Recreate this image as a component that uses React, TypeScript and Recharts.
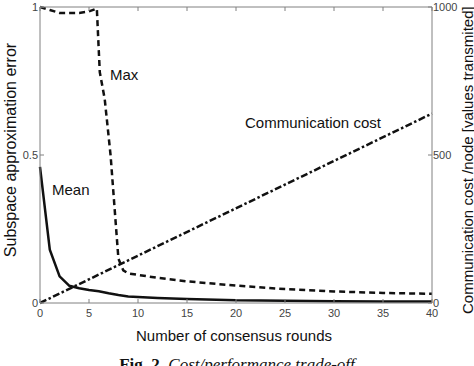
import React from 'react';
import { ComposedChart, Line, XAxis, YAxis } from 'recharts';

// values
const meanRounds = [0, 1, 2, 3, 4, 5, 6, 7, 8, 9, 10, 12, 15, 17, 20, 25, 30, 35, 40];
const meanError = [0.46, 0.18, 0.09, 0.058, 0.05, 0.044, 0.04, 0.033, 0.027, 0.022, 0.02, 0.017, 0.0135, 0.012, 0.009, 0.008, 0.006, 0.005, 0.005];

const maxRounds = [0, 1, 2, 3, 4, 5, 5.8, 6.1, 6.6, 7.2, 8, 8.5, 9, 10, 12, 15, 20, 25, 30, 35, 40];
const maxError = [1.0, 0.99, 0.98, 0.98, 0.98, 0.985, 0.995, 0.78, 0.69, 0.5, 0.15, 0.11, 0.1, 0.095, 0.085, 0.073, 0.059, 0.047, 0.039, 0.034, 0.031];

const costRounds = [0, 40];
const costValues = [0, 640];

const xTicks = [0, 5, 10, 15, 20, 25, 30, 35, 40];
const leftTicks = [0, 0.5, 1];
const rightTicks = [0, 500, 1000];

const meanData = meanRounds.map((r, i) => ({ round: r, value: meanError[i] }));
const maxData = maxRounds.map((r, i) => ({ round: r, value: maxError[i] }));
const costData = costRounds.map((r, i) => ({ round: r, value: costValues[i] }));

const FRAME = '#808080';
const TICK_TEXT = '#444';
const FONT = '"Liberation Sans", Arial, sans-serif';

const BottomTick = ({ x, y, payload }: any) => (
  <g>
    <line x1={x} y1={y} x2={x} y2={y - 4} stroke={FRAME} />
    <text x={x} y={y + 14} textAnchor="middle" fontSize={11} fill={TICK_TEXT} fontFamily={FONT}>
      {payload.value}
    </text>
  </g>
);

const TopTick = ({ x, y }: any) => <line x1={x} y1={y} x2={x} y2={y + 4} stroke={FRAME} />;

const LeftTick = ({ x, y, payload }: any) => (
  <g>
    <line x1={x} y1={y} x2={x + 4} y2={y} stroke={FRAME} />
    <text x={x - 2} y={y + 4} textAnchor="end" fontSize={11} fill={TICK_TEXT} fontFamily={FONT}>
      {payload.value}
    </text>
  </g>
);

const RightTick = ({ x, y, payload }: any) => (
  <g>
    <line x1={x} y1={y} x2={x - 4} y2={y} stroke={FRAME} />
    <text x={x + 1} y={y + 4} textAnchor="start" fontSize={11} fill={TICK_TEXT} fontFamily={FONT}>
      {payload.value}
    </text>
  </g>
);

export default function App() {
  return (
    <div style={{ position: 'absolute', left: 0, top: 0, width: 474, height: 366, background: '#fff' }}>
      <ComposedChart
        width={474}
        height={366}
        data={meanData}
        margin={{ top: 6, right: 41, bottom: 62, left: 39 }}
      >
        <XAxis
          dataKey="round"
          type="number"
          domain={[0, 40]}
          ticks={xTicks}
          interval={0}
          height={1}
          tickSize={0}
          tickMargin={0}
          tickLine={false}
          axisLine={{ stroke: FRAME }}
          tick={<BottomTick />}
        />
        <XAxis
          xAxisId="top"
          orientation="top"
          dataKey="round"
          type="number"
          domain={[0, 40]}
          ticks={xTicks}
          interval={0}
          height={1}
          tickSize={0}
          tickMargin={0}
          tickLine={false}
          axisLine={{ stroke: FRAME }}
          tick={<TopTick />}
        />
        <YAxis
          yAxisId="left"
          type="number"
          domain={[0, 1]}
          ticks={leftTicks}
          interval={0}
          width={1}
          tickSize={0}
          tickMargin={0}
          tickLine={false}
          axisLine={{ stroke: FRAME }}
          tick={<LeftTick />}
        />
        <YAxis
          yAxisId="right"
          orientation="right"
          type="number"
          domain={[0, 1000]}
          ticks={rightTicks}
          interval={0}
          width={1}
          tickSize={0}
          tickMargin={0}
          tickLine={false}
          axisLine={{ stroke: FRAME }}
          tick={<RightTick />}
        />
        <Line
          yAxisId="right"
          data={costData}
          dataKey="value"
          type="linear"
          stroke="#111"
          strokeWidth={2.5}
          strokeDasharray="7 2.5 2.5 2.5"
          dot={false}
          isAnimationActive={false}
        />
        <Line
          yAxisId="left"
          data={maxData}
          dataKey="value"
          type="linear"
          stroke="#111"
          strokeWidth={2.5}
          strokeDasharray="6 4"
          dot={false}
          isAnimationActive={false}
        />
        <Line
          yAxisId="left"
          data={meanData}
          dataKey="value"
          type="linear"
          stroke="#111"
          strokeWidth={2.5}
          dot={false}
          isAnimationActive={false}
        />
      </ComposedChart>
      <svg
        width={474}
        height={366}
        style={{ position: 'absolute', left: 0, top: 0, pointerEvents: 'none' }}
        fontFamily={FONT}
      >
        <text x={110} y={80} fontSize={15} fill="#111">Max</text>
        <text x={52} y={195} fontSize={15} fill="#111">Mean</text>
        <text x={245} y={128} fontSize={15} fill="#111">Communication cost</text>
        <text x={234} y={341} fontSize={15} fill="#111" textAnchor="middle">
          Number of consensus rounds
        </text>
        <text
          x={16}
          y={150}
          fontSize={16}
          fill="#111"
          textAnchor="middle"
          transform="rotate(-90 16 150)"
        >
          Subspace approximation error
        </text>
        <text
          x={473}
          y={314}
          fontSize={15}
          fill="#111"
          textAnchor="start"
          transform="rotate(-90 473 314)"
        >
          Communication cost /node [values transmited]
        </text>
        <text
          x={237}
          y={370}
          fontSize={17}
          fill="#111"
          textAnchor="middle"
          fontFamily='"Liberation Serif", "Times New Roman", serif'
        >
          <tspan fontWeight="bold">Fig. 2.</tspan>
          <tspan fontStyle="italic"> Cost/performance trade-off</tspan>
        </text>
      </svg>
    </div>
  );
}
